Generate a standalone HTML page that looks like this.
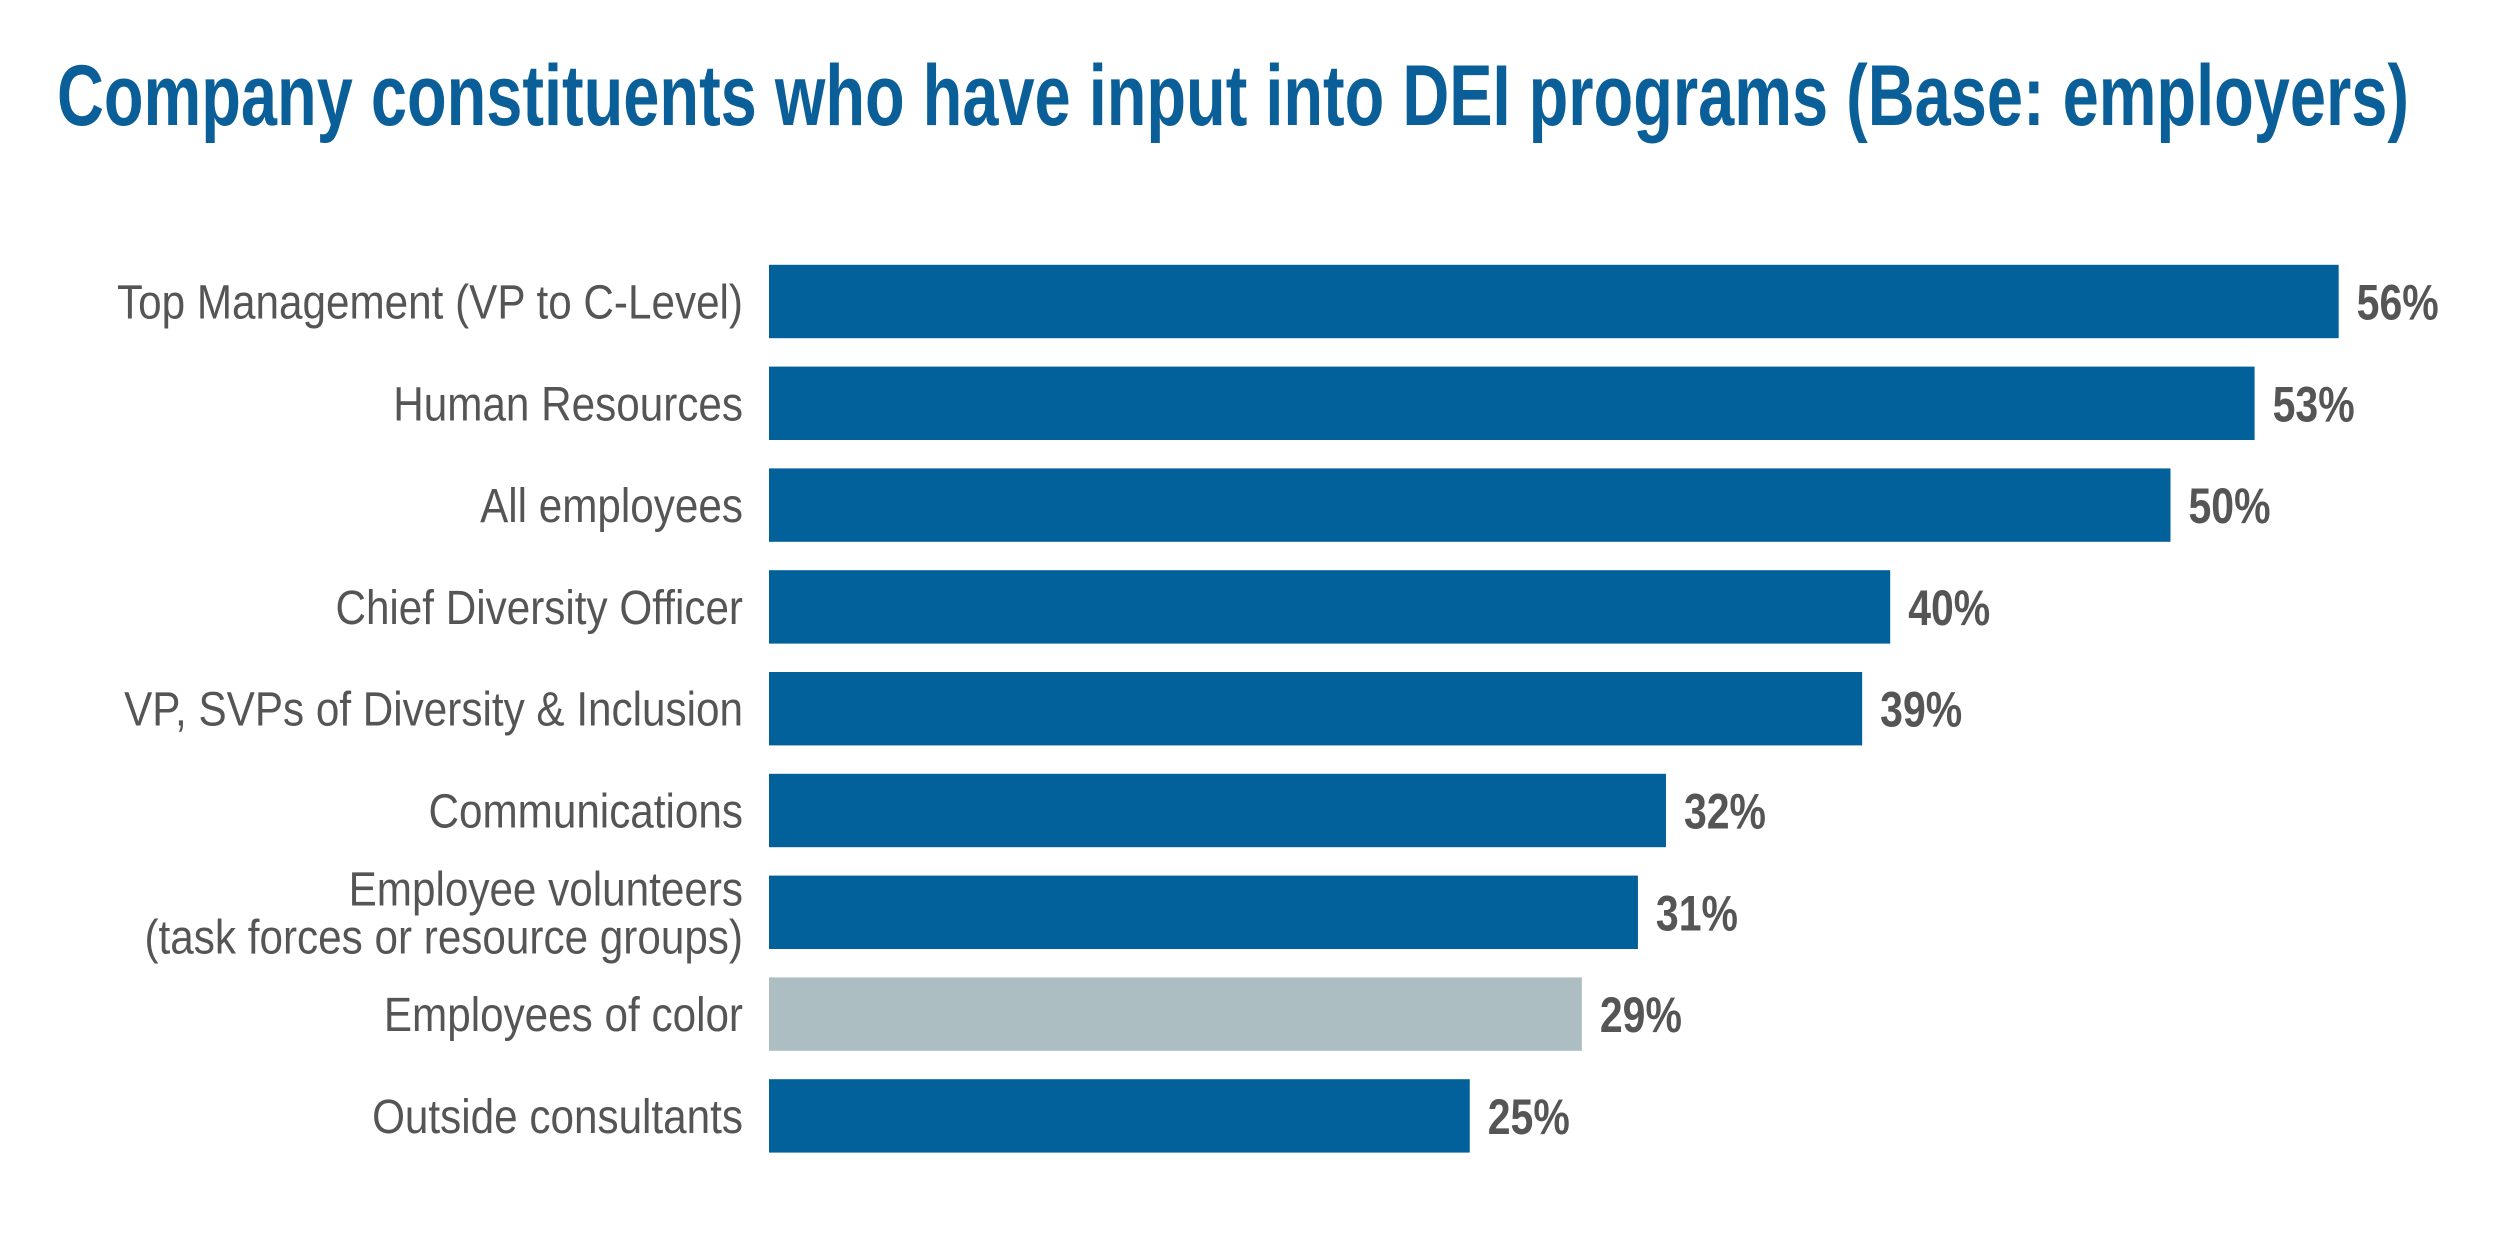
<!DOCTYPE html>
<html><head><meta charset="utf-8">
<style>
html,body{margin:0;padding:0;background:#fff;}
svg{display:block;}
text{font-family:"Liberation Sans Narrow","Liberation Sans",sans-serif;}
</style></head>
<body>
<svg id="chart" width="2501" height="1251" viewBox="0 0 2501 1251">
<text x="57" y="125" font-size="86" font-weight="bold" fill="#0b5f98" textLength="2352" lengthAdjust="spacingAndGlyphs">Company constituents who have input into DEI programs (Base: employers)</text>
<g id="bars"></g>
</svg>
<script>
const categories = [["Top Management (VP to C-Level)"],["Human Resources"],["All employees"],["Chief Diversity Officer"],["VP, SVPs of Diversity & Inclusion"],["Communications"],["Employee volunteers","(task forces or resource groups)"],["Employees of color"],["Outside consultants"]];
const values = [56,53,50,40,39,32,31,29,25];
const highlight = [false,false,false,false,false,false,false,true,false];
const valueLabels = ["56%","53%","50%","40%","39%","32%","31%","29%","25%"];

const NS="http://www.w3.org/2000/svg";
const g=document.getElementById('bars');
const x0=769, pxPer=28.03;
const xScale=v=>x0+v*pxPer;
const yCenter=i=>301.5+i*101.8;
const bh=73.4;
function mk(tag,attrs){const e=document.createElementNS(NS,tag);for(const k in attrs)e.setAttribute(k,attrs[k]);return e;}
values.forEach((v,i)=>{
  const cy=yCenter(i);
  const r=mk('rect',{x:x0,y:cy-bh/2,width:xScale(v)-x0,height:bh,fill:highlight[i]?'#adbec3':'#02609a'});
  
  
  g.appendChild(r);
  const t=mk('text',{x:0,y:0,'font-size':50,'font-weight':'bold',fill:'#555',transform:`translate(${xScale(v)+18},${cy+18}) scale(0.82,1)`});
  t.textContent=valueLabels[i];
  
  
  g.appendChild(t);
  const lines=categories[i];
  lines.forEach((ln,j)=>{
    const off=lines.length===1?17:(j===0?-7:41);
    const l=mk('text',{x:0,y:0,'font-size':48,fill:'#555','text-anchor':'end',transform:`translate(743,${cy+off}) scale(0.88,1)`});
    l.textContent=ln;
    
    
    g.appendChild(l);
  });
});
</script>
</body></html>
